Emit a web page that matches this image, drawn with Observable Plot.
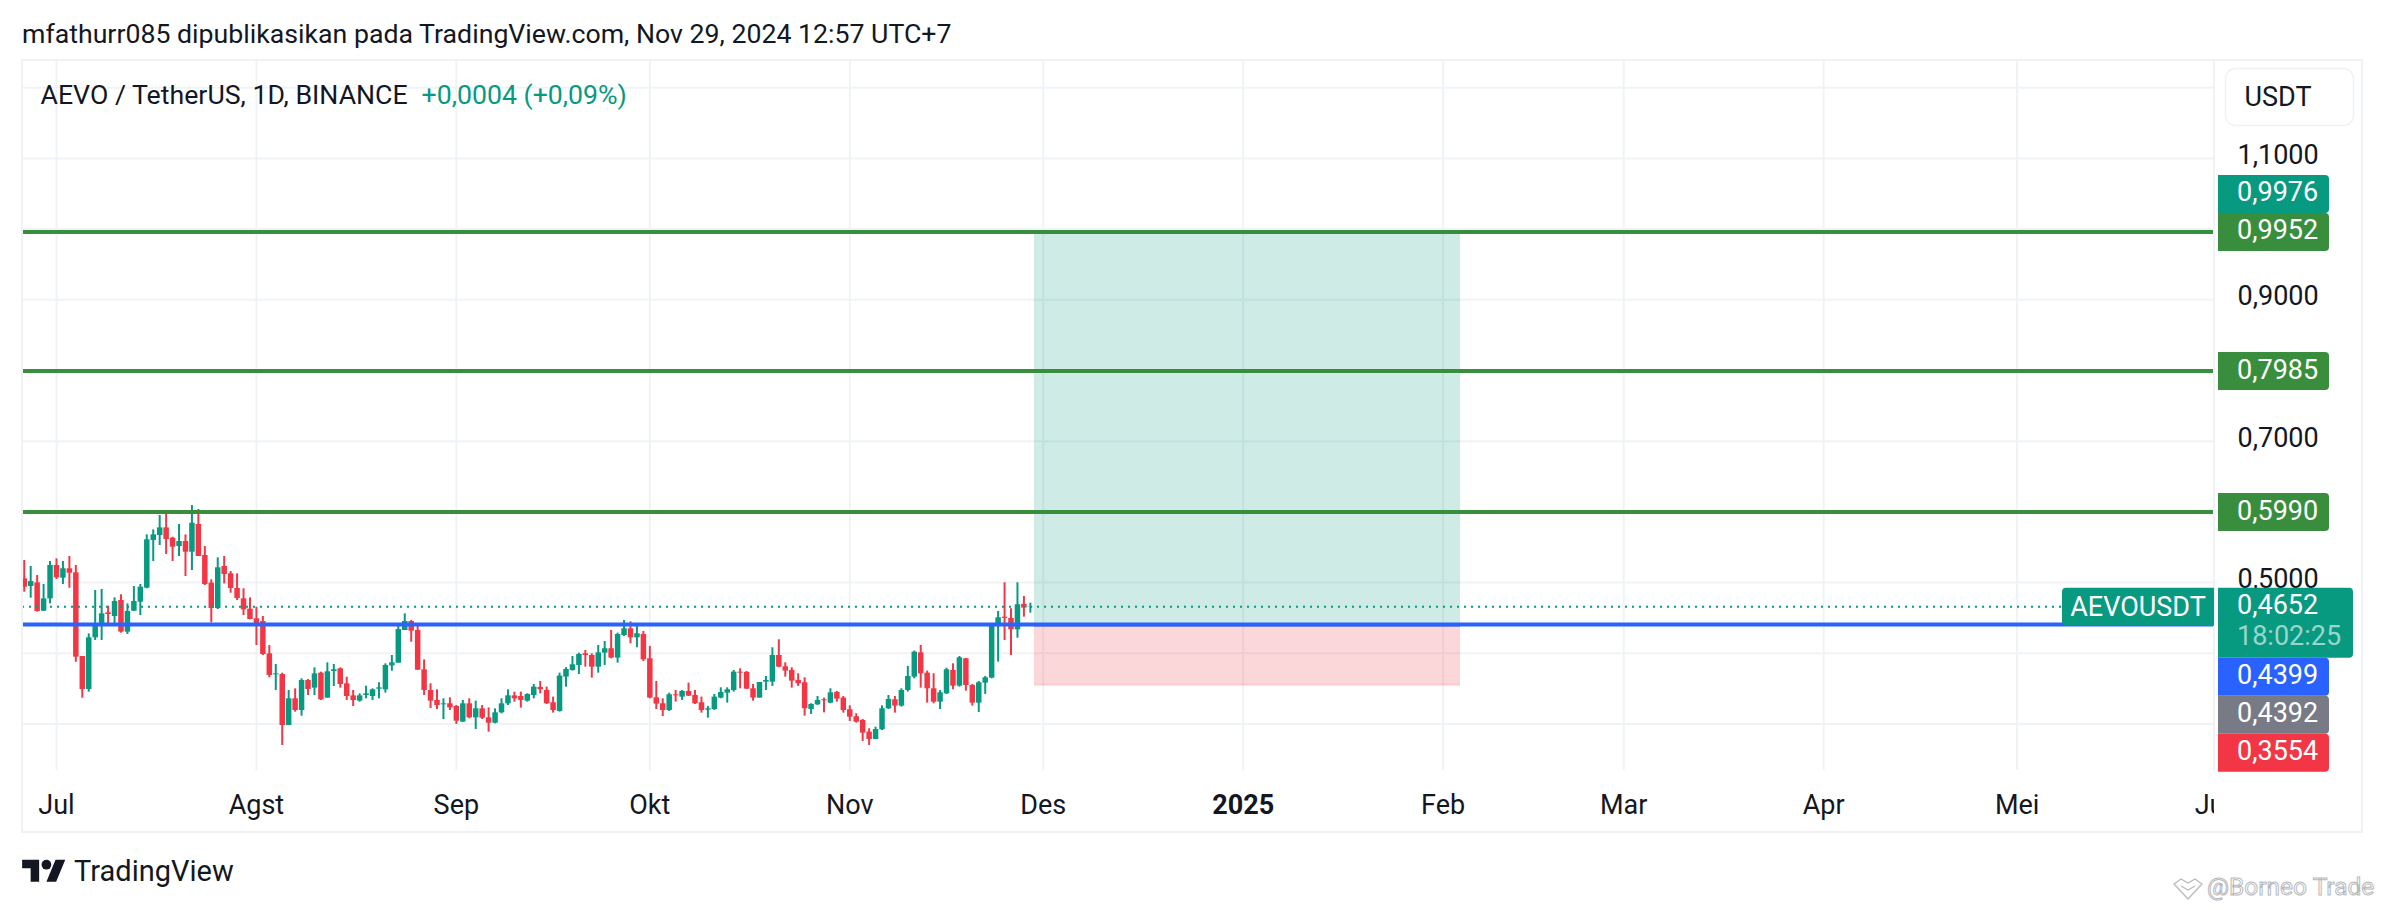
<!DOCTYPE html>
<html><head><meta charset="utf-8">
<script src="https://cdn.jsdelivr.net/npm/d3@7"></script>
<script src="https://cdn.jsdelivr.net/npm/@observablehq/plot@0.6"></script>
<style>
html,body{margin:0;padding:0;background:#fff;overflow:hidden}
body{width:2384px;height:910px;position:relative;font-family:Roboto,sans-serif;color:#131722}
#head{position:absolute;left:22px;top:17px;font-size:26.7px;line-height:34px;white-space:nowrap}
#chart{position:absolute;left:0;top:59px}
#logo{position:absolute;left:22px;top:855px}
#tv{position:absolute;left:74px;top:852px;font-size:29px;line-height:38px}
#wm{position:absolute;left:2207px;top:870px;font-size:24.5px;line-height:34px;color:#fff;-webkit-text-stroke:1px #b8b9bb;white-space:nowrap}
#wmi{position:absolute;left:2173px;top:875px}
</style></head><body>
<div id="head">mfathurr085 dipublikasikan pada TradingView.com, Nov 29, 2024 12:57 UTC+7</div>
<div id="chart"></div>
<svg id="logo" width="44" height="34" viewBox="0 0 36 28"><path fill="#131722" d="M14 22H7V11H0V4h14v18zM28 22h-8l7.5-18h8L28 22z"/><circle fill="#131722" cx="20" cy="8" r="4"/></svg>
<div id="tv">TradingView</div>
<svg id="wmi" width="30" height="26" viewBox="0 0 30 26" fill="none" stroke="#b8b9bb" stroke-width="1.2"><path d="M1 9l7-5 7 4 7-4 7 5-14 15z"/><path d="M8 11l7 4 7-4"/></svg>
<div id="wm">@Borneo Trade</div>
<script>
const startDay = "2024-06-26";
const opens = [.5053,.4945,.4996,.4596,.4770,.5242,.5063,.5195,.5138,.3954,.3488,.4219,.4407,.4572,.4520,.4747,.4299,.4596,.4723,.4921,.5595,.5666,.5774,.5628,.5510,.5581,.5430,.5822,.5383,.4992,.4633,.5228,.5124,.4916,.4770,.4624,.4487,.4450,.3992,.3695,.3700,.2978,.3356,.3191,.3615,.3507,.3719,.3365,.3742,.3780,.3568,.3398,.3323,.3403,.3389,.3492,.3483,.3822,.3860,.4322,.4450,.4322,.3766,.3474,.3332,.3271,.3285,.3247,.3026,.3285,.3087,.3214,.3087,.3011,.3158,.3285,.3398,.3389,.3323,.3403,.3517,.3474,.3300,.3177,.3663,.3757,.3828,.3993,.3969,.3804,.4002,.4064,.3932,.4252,.4346,.4219,.4266,.3922,.3370,.3286,.3191,.3413,.3380,.3460,.3403,.3300,.3196,.3205,.3366,.3436,.3474,.3733,.3729,.3498,.3366,.3592,.3592,.3969,.3809,.3757,.3616,.3583,.3205,.3271,.3342,.3295,.3446,.3366,.3201,.3102,.3050,.2885,.2781,.2918,.3215,.3342,.3253,.3474,.3663,.4007,.3719,.3498,.3309,.3427,.3757,.3535,.3922,.3545,.3295,.3578,.3649,.4394,.4511,.4493,.4332,.4691,.4648];
const highs = [.5312,.5228,.5100,.4973,.5298,.5336,.5298,.5369,.5242,.3954,.4275,.4888,.4902,.4666,.4784,.4827,.4699,.4945,.4973,.5675,.5746,.5949,.5972,.5642,.5822,.5675,.6090,.6034,.5510,.5039,.5350,.5369,.5157,.5124,.4912,.4784,.4652,.4520,.4110,.3841,.3719,.3474,.3497,.3639,.3629,.3794,.3733,.3865,.3841,.3794,.3662,.3474,.3426,.3535,.3497,.3582,.3851,.3969,.4384,.4558,.4464,.4379,.3907,.3568,.3483,.3356,.3370,.3261,.3332,.3356,.3323,.3261,.3228,.3214,.3356,.3483,.3450,.3451,.3427,.3559,.3601,.3521,.3380,.3719,.3795,.3955,.4002,.4040,.3993,.4111,.4167,.4323,.4285,.4464,.4445,.4408,.4309,.4097,.3601,.3356,.3436,.3474,.3474,.3578,.3474,.3380,.3248,.3418,.3512,.3512,.3757,.3781,.3743,.3559,.3587,.3672,.4078,.4191,.3865,.3795,.3710,.3653,.3286,.3389,.3366,.3498,.3460,.3389,.3257,.3144,.3064,.2932,.2955,.3257,.3403,.3389,.3498,.3814,.4031,.4111,.3748,.3710,.3474,.3790,.3851,.3955,.3927,.3559,.3601,.3672,.4408,.4592,.4997,.4629,.4997,.4804,.4709];
const lows = [.4864,.4780,.4582,.4591,.4699,.5044,.4973,.4921,.3874,.3365,.3450,.4181,.4181,.4417,.4384,.4285,.4266,.4591,.4534,.4912,.5298,.5525,.5397,.5298,.5369,.5086,.5171,.5369,.4959,.4431,.4619,.4982,.4850,.4747,.4534,.4473,.4110,.3969,.3653,.3474,.2696,.2978,.3167,.3110,.3403,.3403,.3332,.3365,.3530,.3507,.3332,.3247,.3309,.3356,.3332,.3356,.3436,.3747,.3860,.4322,.4157,.3756,.3403,.3219,.3205,.3063,.3191,.2993,.3026,.3073,.2922,.3063,.2884,.3002,.3143,.3261,.3309,.3224,.3309,.3356,.3427,.3276,.3154,.3168,.3521,.3748,.3700,.3804,.3649,.3719,.3828,.3922,.3861,.4238,.4134,.4078,.3884,.3356,.3205,.3106,.3177,.3309,.3333,.3389,.3276,.3154,.3083,.3191,.3356,.3295,.3451,.3498,.3488,.3323,.3366,.3474,.3531,.3795,.3663,.3507,.3531,.3111,.3135,.3262,.3158,.3286,.3309,.3154,.3036,.3012,.2753,.2696,.2781,.2908,.3205,.3154,.3238,.3451,.3639,.3507,.3295,.3286,.3205,.3418,.3484,.3521,.3465,.3253,.3163,.3418,.3639,.3875,.4181,.3969,.4214,.4511,.4568];
const closes = [.4935,.5015,.4591,.4770,.5242,.5067,.5195,.5133,.3945,.3488,.4219,.4417,.4558,.4549,.4732,.4299,.4591,.4732,.4935,.5605,.5675,.5774,.5609,.5501,.5581,.5430,.5840,.5369,.4973,.4633,.5209,.5114,.4916,.4775,.4615,.4478,.4417,.3983,.3686,.3709,.2978,.3356,.3191,.3615,.3488,.3709,.3342,.3738,.3766,.3558,.3389,.3332,.3398,.3426,.3483,.3511,.3827,.3865,.4336,.4450,.4313,.3761,.3474,.3323,.3261,.3285,.3228,.3040,.3285,.3087,.3214,.3082,.3011,.3158,.3285,.3398,.3356,.3333,.3418,.3521,.3484,.3286,.3191,.3677,.3771,.3837,.3983,.3969,.3804,.4007,.4064,.3932,.4266,.4346,.4219,.4276,.3908,.3366,.3281,.3191,.3413,.3399,.3460,.3394,.3286,.3191,.3215,.3380,.3446,.3484,.3733,.3719,.3493,.3366,.3587,.3616,.3969,.3804,.3748,.3606,.3568,.3215,.3276,.3333,.3328,.3441,.3352,.3191,.3097,.3026,.2871,.2781,.2922,.3215,.3347,.3253,.3474,.3672,.4016,.3710,.3498,.3309,.3441,.3766,.3535,.3936,.3545,.3295,.3583,.3653,.4384,.4502,.4493,.4332,.4686,.4639,.4652];

const upColor = "#089981", downColor = "#f23645";
const targetLevels = [0.9952, 0.7985, 0.5990];
const entryLevel = 0.4399;
const lastPrice = 0.4652;
const positionStart = "2024-11-29T15:00Z", positionEnd = "2025-02-03T17:00Z";
const positionTarget = 0.9952, positionEntry = 0.4392, positionStop = 0.3554;

const priceGrid = [0.3,0.4,0.5,0.6,0.7,0.8,0.9,1.0,1.1,1.2];
const priceTicks = [0.5,0.7,0.9,1.1];
const monthTicks = ["2024-07-01","2024-08-01","2024-09-01","2024-10-01","2024-11-01","2024-12-01","2025-02-01","2025-03-01","2025-04-01","2025-05-01","2025-06-01"];
const monthLabels = ["Jul","Agst","Sep","Okt","Nov","Des","Feb","Mar","Apr","Mei","Jun"];
const yearTick = "2025-01-01", yearLabel = "2025";

const tagPrices = [0.9952,0.9976,0.7985,0.5990,0.4652,0.4399,0.4392,0.3554];
const tagTexts  = ["0,9952","0,9976","0,7985","0,5990","0,4652","0,4399","0,4392","0,3554"];
const tagColors = ["#388e3c","#089981","#388e3c","#388e3c","#089981","#2962ff","#787b86","#f23645"];
const countdown = "18:02:25", symbolTag = "AEVOUSDT", currencyButton = "USDT";

const legendName = "AEVO / TetherUS, 1D, BINANCE", legendChange = "+0,0004 (+0,09%)";

const candles = opens.map((o,i)=>({date:d3.utcDay.offset(new Date(startDay),i),o,h:highs[i],l:lows[i],c:closes[i]}));
const isUp = d => d.c >= d.o;
const dates = a => a.map(s=>new Date(s));
const monthName = new Map(monthTicks.map((s,i)=>[+new Date(s),monthLabels[i]]));
const TEXT = "#131722", GRID = "#f0f3f5";
const FS = 27;

function panel(index, scales, values, dim, ctx){
  const g = d3.select(ctx.document.createElementNS("http://www.w3.org/2000/svg","g"));
  const right = dim.width - dim.marginRight;
  g.append("rect").attr("x",right).attr("y",0).attr("width",148).attr("height",dim.height).attr("fill","#fff");
  g.append("rect").attr("x",22).attr("y",1).attr("width",2340).attr("height",772).attr("fill","none").attr("stroke",GRID).attr("stroke-width",2);
  g.append("line").attr("x1",right).attr("x2",right).attr("y1",1).attr("y2",dim.height-dim.marginBottom).attr("stroke",GRID).attr("stroke-width",2);
  g.append("rect").attr("x",2225.5).attr("y",9.5).attr("width",128).attr("height",57).attr("rx",10).attr("fill","#fff").attr("stroke",GRID).attr("stroke-width",1.5);
  g.append("text").attr("x",2278).attr("y",38).attr("dy","0.35em").attr("text-anchor","middle").attr("font-size",FS).attr("fill",TEXT).text(currencyButton);
  return g.node();
}

function tags(index, scales, values, dim, ctx){
  const g = d3.select(ctx.document.createElementNS("http://www.w3.org/2000/svg","g"));
  const left = dim.width - dim.marginRight + 4;
  const placed = [];
  tagPrices.forEach((p,i)=>{
    const current = p === lastPrice, h = current ? 70 : 38, w = current ? 135 : 111;
    let top = scales.y(p) - 19;
    for (const q of placed) if (top < q.top + q.h && top + h > q.top) top = p > q.p ? q.top - h : q.top + q.h;
    placed.push({p,top,h});
    g.append("path").attr("fill",tagColors[i])
      .attr("d",`M${left} ${top}h${w-4}q4 0 4 4v${h-8}q0 4 -4 4h${-(w-4)}z`);
    g.append("text").attr("x",left+19).attr("y",top+19-2).attr("dy","0.35em").attr("text-anchor","start").attr("font-size",FS).attr("fill","#fff").text(tagTexts[i]);
    if (current) {
      g.append("text").attr("x",left+19).attr("y",top+50-2).attr("dy","0.35em").attr("text-anchor","start").attr("font-size",FS).attr("fill","#fff").attr("fill-opacity",0.6).text(countdown);
      const x0 = left - 156;
      g.append("path").attr("fill",tagColors[i]).attr("d",`M${x0+4} ${top}H${left-4}V${top+38}H${x0+4}q-4 0 -4 -4v-30q0 -4 4 -4z`);
      g.append("text").attr("x",(x0+left-4)/2).attr("y",top+19).attr("dy","0.35em").attr("text-anchor","middle").attr("font-size",FS).attr("fill","#fff").text(symbolTag);
    }
  });
  return g.node();
}

const plot = Plot.plot({
  width: 2384, height: 774,
  marginLeft: 22, marginRight: 170, marginTop: 1, marginBottom: 63,
  style: {fontFamily:"Roboto, sans-serif", background:"#fff", overflow:"visible"},
  x: {type:"utc", domain:[new Date("2024-06-25T17:30Z"), new Date("2025-05-31T14:30Z")]},
  y: {domain:[0.2342,1.2385]},
  marks: [
    Plot.gridX(dates([...monthTicks,yearTick]), {x:d=>d, stroke:GRID, strokeOpacity:1, strokeWidth:2}),
    Plot.gridY(priceGrid, {y:d=>d, stroke:GRID, strokeOpacity:1, strokeWidth:2}),
    Plot.rect([{x1:new Date(positionStart),x2:new Date(positionEnd),y1:positionEntry,y2:positionTarget}],{x1:"x1",x2:"x2",y1:"y1",y2:"y2",fill:"#089981",fillOpacity:0.2}),
    Plot.rect([{x1:new Date(positionStart),x2:new Date(positionEnd),y1:positionStop,y2:positionEntry}],{x1:"x1",x2:"x2",y1:"y1",y2:"y2",fill:"#f23645",fillOpacity:0.2}),
    Plot.ruleY([positionStop],{x1:new Date(positionStart),x2:new Date(positionEnd),stroke:"#f23645",strokeOpacity:0.2,strokeWidth:2}),
    Plot.ruleX(candles,{x:"date",y1:"l",y2:"h",stroke:d=>isUp(d)?upColor:downColor,strokeWidth:2}),
    Plot.ruleX(candles,{x:"date",y1:"o",y2:"c",stroke:d=>isUp(d)?upColor:downColor,strokeWidth:5.5}),
    Plot.ruleY([lastPrice],{stroke:upColor,strokeWidth:2,strokeDasharray:"2,5",dy:-0.5}),
    Plot.ruleY([positionEntry],{x1:new Date(positionStart),x2:new Date(positionEnd),stroke:"#787b86",strokeWidth:2}),
    Plot.ruleY([entryLevel],{stroke:"#2962ff",strokeWidth:4,dy:-0.5}),
    Plot.ruleY(targetLevels,{stroke:"#388e3c",strokeWidth:4,dy:-0.5}),
    Plot.text([legendName],{text:d=>d,frameAnchor:"top-left",dx:18,dy:35,textAnchor:"start",lineAnchor:"middle",fontSize:26.7,fill:TEXT}),
    Plot.text([legendChange],{text:d=>d,frameAnchor:"top-left",dx:399,dy:35,textAnchor:"start",lineAnchor:"middle",fontSize:26.7,fill:upColor}),
    Plot.axisX(dates(monthTicks),{anchor:"bottom",label:null,tickSize:0,tickPadding:24,fontSize:FS,fill:TEXT,tickFormat:d=>monthName.get(+d)}),
    Plot.axisX(dates([yearTick]),{anchor:"bottom",label:null,tickSize:0,tickPadding:24,fontSize:FS,fontWeight:"bold",fill:TEXT,tickFormat:()=>yearLabel}),
    panel,
    Plot.axisY(priceTicks,{anchor:"right",label:null,tickSize:0,tickPadding:23,fontSize:FS,fill:TEXT,dy:-3,tickFormat:d=>d.toFixed(4).replace(".",",")}),
    tags
  ]
});
document.getElementById("chart").append(plot);
</script>
</body></html>
